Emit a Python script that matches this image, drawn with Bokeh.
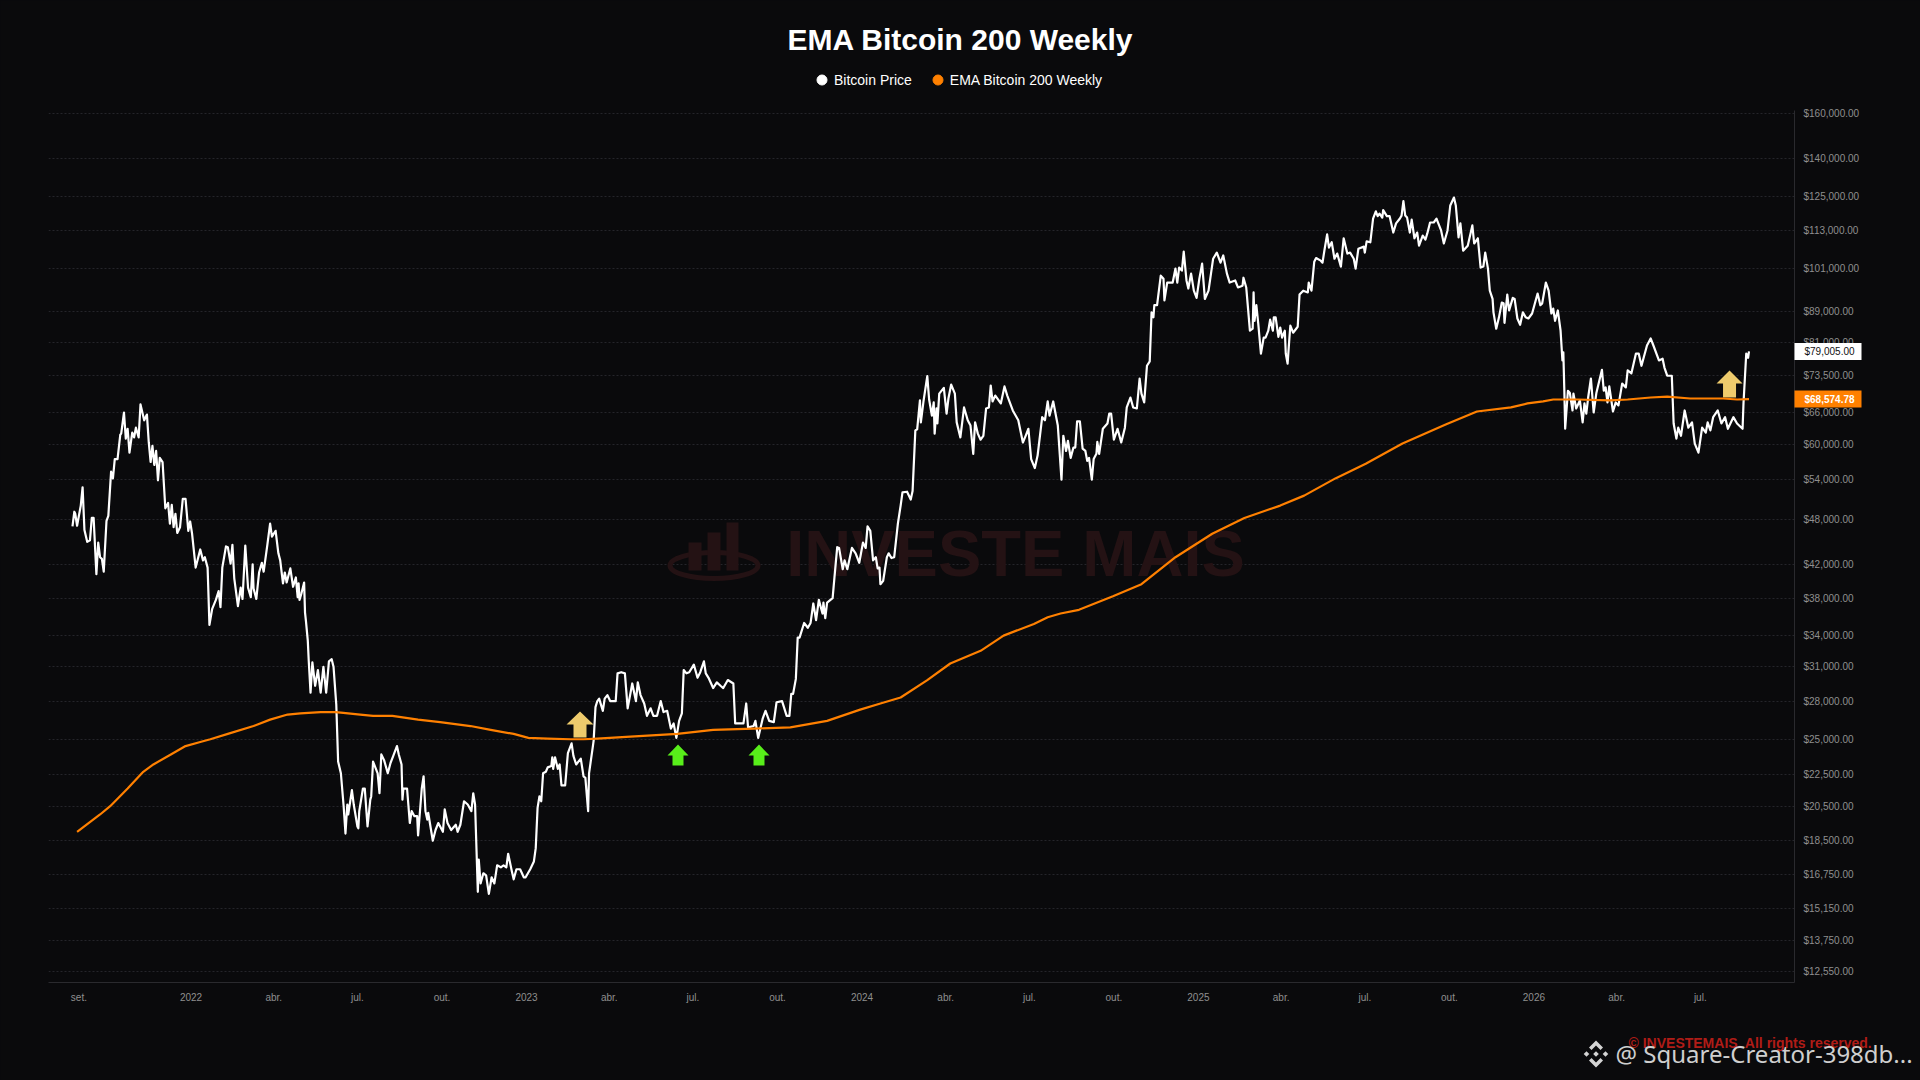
import math
from datetime import datetime, timezone
from bokeh.plotting import figure
from bokeh.embed import file_html
from bokeh.resources import INLINE
from bokeh.core.properties import value
from bokeh.models import (ColumnDataSource, FixedTicker, Legend, LegendItem,
                          NumeralTickFormatter, Range1d)

START_DATE = "2021-08-25"

# (days since START_DATE, BTC price in USD)
price_points = [
(0,47000),(2,49100),(3,48800),(5,47100),(9,50000),(11,52800),(13,46500),(16,44900),(19,45100),(21,48200),(23,48200),(26,40800),(28,44800),(30,42900),(32,42700),(34,41100),(37,47800),(39,48500),(42,55300),(44,54200),(46,57400),(49,57400),(52,61700),(53,61900),(56,65900),(58,61000),(60,62800),(62,58500),(65,62100),(67,61200),(69,63000),(72,61200),(74,67500),(78,64400),(81,65500),(83,60300),(85,56900),(87,59700),(89,56400),(91,58800),(93,53900),(95,57600),(98,56900),(101,49600),(104,50400),(106,47400),(108,50100),(110,46900),(112,48800),(114,46100),(117,46900),(120,51000),(123,51000),(126,46400),(128,47700),(130,46100),(134,41600),(139,43900),(142,42500),(144,42900),(147,41600),(149,35100),(152,36800),(156,37800),(159,38800),(161,37000),(163,41600),(167,44300),(169,44200),(172,42100),(174,44500),(176,40300),(180,37100),(183,39200),(185,37900),(188,44400),(191,39200),(194,38100),(196,42000),(197,39100),(200,37900),(203,41000),(206,42200),(208,41100),(212,44500),(215,47400),(217,45600),(221,46400),(224,43400),(226,42500),(229,39700),(231,41000),(233,39800),(237,41500),(240,39300),(243,40400),(245,38100),(246,39700),(247,37800),(249,38500),(252,39800),(253,36400),(254,35500),(256,33500),
(257,31600),(259,28700),(261,31400),(264,29300),(267,30700),(270,28700),(273,31000),(276,28700),(279,31500),(282,31700),(284,31000),(287,27700),(289,23400),(292,22600),
(295,20500),(297,18900),(299,20600),(300,20000),(304,21500),(306,20600),(310,19300),(311,19200),(312,20200),(316,21600),(318,21600),(321,19300),(324,20900),(325,21100),(327,23400),(332,22600),(334,21300),(336,23900),(339,23500),(343,22600),(346,23300),(349,23800),(353,24500),(355,23900),(358,23200),(359,20900),(360,21600),(364,21600),(367,19500),(369,20200),(372,19900),(375,19900),(376,18800),(380,21600),(382,22400),(384,20200),(386,19700),(387,20100),(392,18500),(395,19100),(398,19500),(403,19000),(405,20300),(408,19500),(412,19100),(417,19400),(419,19000),(422,19400),(426,20800),(430,20600),(434,20200),(436,21300),(438,20600),(441,15900),(442,17500),(444,16300),(447,16800),(450,16700),(453,15800),(456,16600),(459,16300),(462,17200),(466,17100),(469,17200),(472,17100),(474,17800),(478,16900),(480,16500),(483,17000),(487,17000),(491,16600),(493,16600),(498,17000),(502,17400),(504,18100),(506,20400),(508,21100),(510,20800),(512,22600),(515,22700),(517,23000),(521,23100),(522,23700),(523,22900),(525,23700),(528,22900),(530,23200),(532,21800),(536,21800),(539,24000),(543,24700),(545,23800),(548,23200),(553,23600),(556,22400),(558,22300),(561,20200),(562,22600),(566,24400),(567,24900),(569,27500),(571,28000),(573,28200),(577,27200),(579,28200),(582,28500),(585,28000),(591,28000),(593,30400),(597,30500),(601,30400),(604,27400),(609,29500),(613,28000),(615,29600),(618,28500),(622,27800),(625,26800),(629,27400),(632,26800),(636,26800),(640,28000),(643,27100),(647,27200),(651,25800),(654,26200),(657,25100),(660,26400),(663,27000),(665,30700),(668,30400),(671,30500),(676,31200),(680,30000),(683,30500),(687,31500),(689,30400),(692,30000),(697,29100),(701,29600),(705,29300),(708,29100),(713,29800),(719,29500),(721,26200),(728,26200),(730,26200),(733,27800),(735,25900),(741,26000),(743,26400),(746,25100),(751,26600),(754,27200),(758,26400),(763,26300),(766,27900),(772,28000),(777,26800),(780,26800),(782,28600),(784,28600),(787,29900),
(789,33800),(791,33800),(796,35300),(800,34800),(803,35300),(806,37400),(809,35600),(812,37800),(816,36300),(817,37500),(819,35800),(821,37500),(827,38000),(829,40400),(832,44200),(834,44100),(838,41400),(840,42500),(843,41400),(848,44100),(852,43400),(856,42200),(860,44800),(863,44100),(865,47000),(868,46400),(871,42500),(874,42900),(876,41500),(878,41600),(879,39600),(882,40000),(886,42900),(888,43400),(891,42800),(894,42900),(898,47400),(901,50000),(903,52000),(908,52100),(912,50900),(914,52200),(917,62500),(919,62700),(922,68300),(923,64000),(926,68300),(930,73400),(932,68500),(935,65300),(937,67900),(938,61900),(940,66700),(941,63800),(943,69700),(948,70900),(951,65700),(953,68700),(956,71600),(960,69700),(962,64000),(966,61200),(970,66900),(974,64400),(977,63400),(980,58300),(982,64000),(985,61900),(988,60800),(991,61500),(994,66700),(997,66900),(999,71400),(1001,68100),(1004,69300),(1010,67700),(1014,71200),(1017,69300),(1023,66300),(1029,64400),(1034,60300),(1037,61500),(1040,62800),(1043,57400),(1047,55900),(1050,58000),(1055,65000),(1058,64400),(1061,68100),(1063,65300),(1067,68100),(1072,63400),(1076,54000),(1078,61500),(1081,58800),(1083,60600),(1086,57600),(1089,59400),(1091,59400),(1093,64200),(1096,64200),(1099,59200),(1102,58800),(1104,57100),(1106,57600),(1109,54000),(1111,57400),(1114,58300),(1115,60400),(1117,58300),(1121,62800),(1126,63800),(1128,65700),(1130,65700),(1133,60800),(1137,62800),(1141,60300),(1145,63000),(1147,66900),(1151,68900),(1154,66900),(1158,66700),(1161,72900),(1163,69700),(1166,67900),(1169,75700),(1172,76700),(1174,88700),(1176,87400),(1177,90600),(1180,90600),(1184,98900),(1187,98000),(1188,91900),(1191,96900),(1197,96900),(1200,101000),(1202,96900),(1204,101300),(1207,100400),(1209,106200),(1212,97500),(1214,95200),(1217,99500),(1220,94600),(1223,92600),(1226,98000),(1229,102500),(1232,92300),(1236,94600),(1241,104000),(1245,105900),(1249,102800),(1252,105000),(1256,99500),(1259,96900),(1265,97500),(1268,95500),(1273,96000),(1274,98300),(1277,95500),(1281,84000),(1284,84500),(1285,94100),(1286,86500),(1288,90600),(1290,86000),(1293,78500),(1296,82300),(1298,82300),(1301,84000),(1303,86800),(1306,84000),(1307,87400),(1309,87400),(1312,82500),(1314,84800),(1316,82300),(1319,84000),(1320,78500),(1322,76200),(1324,82300),(1325,85300),(1328,83500),(1333,85000),
(1335,93500),(1339,94600),(1344,94100),(1345,96900),(1348,94600),(1351,103100),(1353,104200),(1358,103400),(1360,102800),(1362,106500),(1365,111800),(1367,107500),(1370,109200),(1373,104000),(1376,105600),(1380,101600),(1383,110500),(1387,105600),(1390,105900),(1394,104000),(1396,101000),(1399,107100),(1405,107800),(1406,105900),(1408,109500),(1412,109200),(1415,117100),(1418,119700),(1420,118000),(1422,118900),(1425,117500),(1426,120100),(1430,118000),(1433,118000),(1437,112400),(1440,115500),(1444,117100),(1446,118200),(1448,123400),(1450,118200),(1452,117500),(1455,112400),(1457,116800),(1460,110500),(1463,112400),(1465,108100),(1469,111400),(1472,110100),(1474,112100),(1477,115800),(1481,115800),(1484,117100),(1486,115500),(1489,113100),(1492,108800),(1496,113100),(1499,121800),(1503,124700),(1505,121800),(1508,110800),(1510,115500),(1513,106500),(1518,108100),(1523,114800),(1525,108800),(1529,110500),(1532,101300),(1535,101600),(1537,105900),(1540,101000),(1542,94600),(1545,92300),(1546,88700),(1549,84500),(1552,87400),(1555,91300),(1557,91100),(1558,86000),(1561,93500),(1563,89200),(1567,92600),(1569,92300),(1572,87100),(1575,85500),(1578,88700),(1581,87400),(1584,87100),(1588,88400),(1594,93800),(1597,90600),(1599,91100),(1603,96900),(1606,94600),(1609,88400),(1611,89700),(1613,86500),(1616,89200),(1619,84000),(1621,76900),(1622,78800),(1623,71000),(1624,62800),(1627,70300),(1629,69900),(1632,66300),(1633,69700),(1636,66700),(1640,68300),(1643,64000),(1645,67700),(1647,65700),(1649,68900),(1652,72900),(1655,65900),(1658,69900),(1664,74800),(1666,70300),(1668,71000),(1670,67900),(1672,71200),(1676,66100),(1679,67900),(1682,67300),(1686,71800),(1690,71000),(1692,74700),(1696,74000),(1701,78500),(1704,78500),(1707,75700),(1713,80400),(1717,82100),(1720,80400),(1726,76900),(1730,77300),(1732,75300),(1735,73500),(1740,73500),(1742,63800),(1745,61000),(1747,63000),(1750,61500),(1754,66300),(1758,63000),(1762,64000),(1765,60100),(1769,58500),(1773,63000),(1777,62100),(1779,64000),(1782,62500),(1785,65000),(1790,66300),(1794,63800),(1798,65000),(1801,62800),(1807,65000),(1811,63800),(1817,62800),(1818,67700),(1821,78500),(1823,77500),(1824,79005),
]
price_days = [d for d, _ in price_points]
price_values = [v for _, v in price_points]

# (days since START_DATE, 200-week EMA in USD)
ema_points = [
(5,19000),(30,20000),(41,20500),(60,21600),(77,22700),(88,23200),(107,23900),(123,24500),(139,24800),(150,25000),(169,25400),(197,26000),(215,26500),(234,26900),(248,27000),(270,27100),(286,27100),(292,27050),(313,26900),(327,26800),(348,26800),(376,26500),(400,26300),(433,26000),(455,25700),(480,25400),(496,25100),(517,25050),(542,25000),(556,25000),(571,25050),(607,25200),(658,25400),(697,25700),(741,25800),(781,25900),(821,26400),(857,27300),(879,27800),(901,28300),(930,29800),(955,31300),(988,32500),(1013,34000),(1046,35200),(1061,35900),(1075,36300),(1095,36700),(1132,38200),(1163,39600),(1200,42900),(1240,46000),(1275,48200),(1314,50000),(1340,51500),(1374,54200),(1407,56600),(1447,60100),(1494,63600),(1528,66100),(1565,66900),(1583,67700),(1600,68100),(1611,68500),(1637,68500),(1673,68300),(1692,68500),(1717,68900),(1735,69100),(1760,68700),(1796,68700),(1811,68500),(1824,68574.78),
]
ema_days = [d for d, _ in ema_points]
ema_values = [v for _, v in ema_points]

y_ticks = [160000, 140000, 125000, 113000, 101000, 89000, 81000, 73500, 66000, 60000, 54000, 48000,
           42000, 38000, 34000, 31000, 28000, 25000, 22500, 20500, 18500, 16750, 15150, 13750, 12550]
x_tick_dates = ["2021-09-01", "2022-01-01", "2022-04-01", "2022-07-01", "2022-10-01", "2023-01-01", "2023-04-01",
                "2023-07-01", "2023-10-01", "2024-01-01", "2024-04-01", "2024-07-01", "2024-10-01", "2025-01-01",
                "2025-04-01", "2025-07-01", "2025-10-01", "2026-01-01", "2026-04-01", "2026-07-01"]
x_tick_labels = ["set.", "2022", "abr.", "jul.", "out.", "2023", "abr.", "jul.", "out.", "2024", "abr.", "jul.",
                 "out.", "2025", "abr.", "jul.", "out.", "2026", "abr.", "jul."]
TITLE = "EMA Bitcoin 200 Weekly"
PRICE_NAME = "Bitcoin Price"

BG = "#0a0a0c"
WM = "#241214"
FONT = "Liberation Sans"
DAY = 86400000.0
base = datetime.strptime(START_DATE, "%Y-%m-%d").replace(tzinfo=timezone.utc)
base_ms = base.timestamp() * 1000.0

def to_ms(days):
    return base_ms + days * DAY

# pixel <-> data helpers, used only for annotations
def X(px):
    return to_ms((px - 72) * 1.088)

def Y(py):
    return 160000 * math.exp(-(py - 113) / 337.1)

def price_to_py(v):
    return 113 + 337.1 * math.log(160000 / v)

x_ticks = [datetime.strptime(s, "%Y-%m-%d").replace(tzinfo=timezone.utc).timestamp() * 1000.0 for s in x_tick_dates]

p = figure(width=1920, height=1080, output_backend="svg", toolbar_location=None,
           x_axis_type="datetime", y_axis_type="log", y_axis_location="right",
           x_range=Range1d(to_ms(-26.1), to_ms(1873.5)), y_range=Range1d(Y(982), Y(110)),
           min_border_left=48, min_border_right=126, min_border_top=110, min_border_bottom=98,
           background_fill_color=BG, border_fill_color=BG, outline_line_color=None,
           styles={"position": "absolute", "left": "0px", "top": "0px"})

yax = p.yaxis[0]
yax.ticker = FixedTicker(ticks=y_ticks)
yax.formatter = NumeralTickFormatter(format="$0,0.00")
yax.major_tick_line_color = None
yax.minor_tick_line_color = None
yax.major_tick_out = 0
yax.minor_tick_out = 0
yax.axis_line_color = "#2a2a2e"
yax.major_label_text_color = "#8f8f8f"
yax.major_label_text_font = FONT
yax.major_label_text_font_size = "10px"
yax.major_label_standoff = 9

xax = p.xaxis[0]
xax.ticker = FixedTicker(ticks=x_ticks)
xax.major_label_overrides = dict(zip(x_ticks, x_tick_labels))
xax.major_tick_line_color = None
xax.minor_tick_line_color = None
xax.major_tick_out = 0
xax.minor_tick_out = 0
xax.axis_line_color = "#2a2a2e"
xax.major_label_text_color = "#8f8f8f"
xax.major_label_text_font = FONT
xax.major_label_text_font_size = "10px"
xax.major_label_standoff = 9

p.xgrid.visible = False
p.ygrid.ticker = FixedTicker(ticks=y_ticks)
p.ygrid.grid_line_color = "#25252a"
p.ygrid.grid_line_dash = "2 2"
p.ygrid.grid_line_width = 1
p.ygrid.level = "underlay"

# watermark
p.text(x=[X(1015)], y=[Y(553)], text=["INVESTE MAIS"], text_color=WM, text_font=value(FONT),
       text_font_style="bold", text_font_size="65px", text_baseline="middle", text_align="center")
p.ellipse(x=[X(713.5)], y=[Y(565)], width=[88], height=[26], width_units="screen", height_units="screen",
          fill_color=None, line_color=WM, line_width=5)
for left, right, top in [(688, 701, 542), (707, 720, 532), (726, 738, 522)]:
    p.patch([X(left), X(right), X(right), X(left)], [Y(top), Y(top), Y(570), Y(570)],
            fill_color=WM, line_color=None)

# arrow markers
def arrow(cx, tip, half_head, half_shaft, head_bottom, bottom, color):
    xs = [cx, cx + half_head, cx + half_shaft, cx + half_shaft, cx - half_shaft, cx - half_shaft, cx - half_head]
    ys = [tip, head_bottom, head_bottom, bottom, bottom, head_bottom, head_bottom]
    p.patch([X(v) for v in xs], [Y(v) for v in ys], fill_color=color, line_color=None)

arrow(579.5, 711, 13.5, 6.5, 724, 737, "#eecb6c")
arrow(1729, 370, 13, 6.5, 383, 397, "#eecb6c")
arrow(677.5, 744, 10.5, 5.5, 755, 765, "#58ee1a")
arrow(758.5, 744, 10.5, 5.5, 755, 765, "#58ee1a")

src_price = ColumnDataSource(dict(x=[to_ms(d) for d in price_days], y=price_values))
src_ema = ColumnDataSource(dict(x=[to_ms(d) for d in ema_days], y=ema_values))
p.line("x", "y", source=src_price, line_color="#ffffff", line_width=2.2, line_join="round")
p.line("x", "y", source=src_ema, line_color="#ff8000", line_width=2.2, line_join="round")

# transparent layer over the whole page: title, legend, value tags, footer (the main frame clips its annotations)
ov = figure(width=1920, height=1080, output_backend="svg", toolbar_location=None,
            x_range=Range1d(0, 1920), y_range=Range1d(1080, 0), x_axis_location=None, y_axis_location=None,
            min_border=0, background_fill_alpha=0, border_fill_alpha=0, outline_line_color=None,
            styles={"position": "absolute", "left": "0px", "top": "0px", "pointer-events": "none"})
ov.xgrid.visible = False
ov.ygrid.visible = False

ov.text(x=[960], y=[39], text=[TITLE], text_color="#ffffff", text_font=value(FONT), text_font_style="bold",
        text_font_size="30px", text_align="center", text_baseline="middle")

# legend swatches: their one point lies off the page, only the legend shows them
k_price = ov.scatter(x=[-100], y=[-100], marker="circle", size=10, fill_color="#ffffff", line_color="#ffffff")
k_ema = ov.scatter(x=[-100], y=[-100], marker="circle", size=10, fill_color="#ff8000", line_color="#ff8000")
legend = Legend(items=[LegendItem(label=PRICE_NAME, renderers=[k_price]), LegendItem(label=TITLE, renderers=[k_ema])],
                orientation="horizontal", location=(809, 988), glyph_width=25, glyph_height=25,
                label_standoff=0, spacing=13, padding=0, margin=0, background_fill_alpha=0, border_line_alpha=0,
                label_text_color="#ffffff", label_text_font=FONT, label_text_font_size="14px")
ov.add_layout(legend, "center")

for val, box, color, weight in [(price_values[-1], "#ffffff", "#111111", "normal"),
                                (ema_values[-1], "#ff8000", "#ffffff", "bold")]:
    cy = price_to_py(val)
    ov.quad(left=[1794], right=[1861], top=[cy - 8.5], bottom=[cy + 8.5], fill_color=box, line_color=None)
    ov.text(x=[1804], y=[cy], text=["${:,.2f}".format(val)], text_color=color, text_font=value(FONT),
            text_font_style=weight, text_font_size="10px", text_align="left", text_baseline="middle")

ov.text(x=[1628], y=[1042], text=["© INVESTEMAIS. All rights reserved."], text_color="#b01c17", text_font=value(FONT),
        text_font_style="bold", text_font_size="14px", text_align="left", text_baseline="middle")
ov.text(x=[1615], y=[1052.5], text=["@ Square-Creator-398db..."], text_color="#cfcfcf", text_font=value("Noto Sans"),
        text_font_size="24px", text_align="left", text_baseline="middle")

LX, LY = 1595.5, 1053.5
logo = [[(0, -13.5), (7, -6.5), (4.5, -4), (0, -8.5), (-4.5, -4), (-7, -6.5)],
        [(0, 13.5), (7, 6.5), (4.5, 4), (0, 8.5), (-4.5, 4), (-7, 6.5)],
        [(0, -2.8), (2.8, 0), (0, 2.8), (-2.8, 0)],
        [(-9.5, -2.8), (-6.7, 0), (-9.5, 2.8), (-12.3, 0)],
        [(9.5, -2.8), (12.3, 0), (9.5, 2.8), (6.7, 0)]]
ov.patches([[LX + a for a, _ in s] for s in logo], [[LY + b for _, b in s] for s in logo],
           fill_color="#d4d4d4", line_color=None)

html = file_html([p, ov], INLINE)
html = html.replace("</head>", "<style>html,body{background:" + BG + ";overflow:hidden}</style></head>")
open("out.html", "w").write(html)
